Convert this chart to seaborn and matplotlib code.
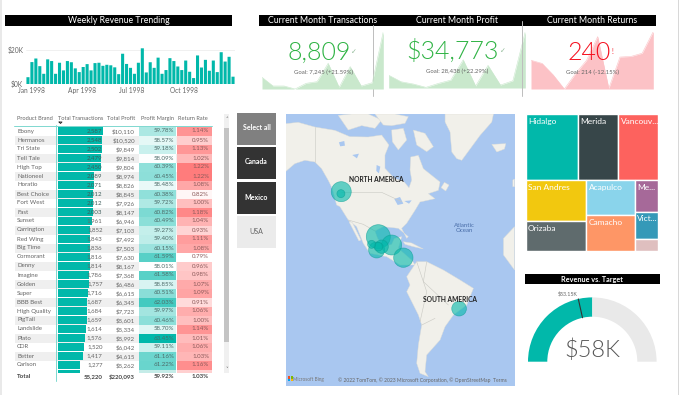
import numpy as np
import pandas as pd
import matplotlib.pyplot as plt
import seaborn as sns
from matplotlib.colors import LinearSegmentedColormap
from matplotlib.patches import Polygon, Rectangle

W, H = 680, 395
TEAL = '#01B8AA'
GREY = '#666666'

weekly_revenue = [4, 12.9, 15, 10.5, 6, 14.5, 13.5, 6, 12.5, 8, 13.5, 12.8, 9.2, 7, 10, 11.7, 8, 12.3,
                  12.5, 10.7, 11.3, 11, 9.8, 5.8, 17.8, 11.8, 9.5, 6, 12.5, 21, 6.8, 12.8, 9.5, 15.5,
                  6, 8.2, 15.2, 13.5, 10.3, 8.2, 13.8, 7.2, 3.5, 16.8, 9.7, 14.2, 7.8, 13.8, 7, 18.7,
                  13.2, 16, 4.3]
week_ticks = [0.8, 13.6, 26.4, 39.6]
week_labels = ['Jan 1998', 'Apr 1998', 'Jul 1998', 'Oct 1998']

transactions_trend = [6253, 5768, 5768, 5600, 5917, 6010, 7036, 5693, 6850, 5768, 5954, 8809]
profit_trend = [24894, 23410, 22890, 22150, 23040, 23780, 28380, 22450, 27120, 22670, 23630, 34773]
returns_trend = [195, 190, 172, 150, 174, 195, 232, 151, 200, 201, 206, 240]

brands = ['Ebony', 'Hermanos', 'Tri State', 'Tell Tale', 'High Top', 'Nationeel', 'Horatio', 'Best Choice',
          'Fort West', 'Fast', 'Sunset', 'Carrington', 'Red Wing', 'Big Time', 'Cormorant', 'Denny', 'Imagine',
          'Golden', 'Super', 'BBB Best', 'High Quality', 'PigTail', 'Landslide', 'Plato', 'CDR', 'Better', 'Carlson']
total_tx = [2587, 2548, 2502, 2479, 2450, 2089, 2071, 2012, 2012, 2003, 1961, 1852, 1843, 1836, 1816, 1814,
            1786, 1757, 1716, 1687, 1684, 1659, 1614, 1576, 1520, 1417, 1277]
total_profit = [10110, 10520, 9849, 9814, 9804, 8974, 8826, 8845, 7926, 8147, 6946, 7103, 7492, 7503, 7630,
                8167, 7368, 6486, 6615, 6345, 7723, 5601, 5334, 5992, 6042, 4615, 5262]
profit_margin = [59.78, 58.57, 59.18, 58.09, 60.39, 60.45, 58.48, 60.38, 59.72, 60.82, 60.49, 59.27, 59.40,
                 60.15, 61.59, 58.01, 61.58, 58.85, 60.51, 62.03, 59.97, 60.46, 58.70, 63.45, 59.11, 61.16, 61.22]
return_rate = [1.14, 0.95, 1.13, 1.02, 1.22, 1.22, 1.08, 0.82, 1.00, 1.18, 1.04, 0.93, 1.11, 1.08, 0.79, 0.96,
               0.98, 1.07, 1.09, 0.91, 1.06, 1.00, 1.14, 1.01, 1.06, 1.03, 1.16]
headers = ['Product Brand', 'Total Transactions', 'Total Profit', 'Profit Margin', 'Return Rate']
totals = ['Total', '55,220', '$220,093', '59.92%', '1.03%']

slicers = ['Select all', 'Canada', 'Mexico', 'USA']

city_x = [319, 318, 430, 470, 425, 440, 430, 410, 505, 672]
city_y = [260, 266, 395, 420, 435, 425, 425, 418, 458, 611]
city_r = [30, 12, 36, 30, 24, 20, 13, 12, 29, 22]

tree_top = [('Hidalgo', 29.9, TEAL), ('Merida', 22.8, '#374649'), ('Vancouv...', 22.6, '#FD625E')]
tree_bottom = [[('San Andres', 21.7, '#F2C80F'), ('Orizaba', 15.5, '#5F6B6D')],
               [('Acapulco', 14.8, '#8AD4EB'), ('Camacho', 14.7, '#FE9666')],
               [('Me...', 6.4, '#A66999'), ('Vict...', 5.6, '#3599B8'), ('', 2.3, '#DFBFBF')]]

gauge_value = 58
gauge_max = 116
gauge_target_at = 49.9

sns.set_theme(style='white')
plt.rcParams['font.family'] = ['Lato', 'DejaVu Sans']

fig = plt.figure(figsize=(W / 100, H / 100), dpi=100)


def px_axes(x0, y0, x1, y1, z=1):
    ax = fig.add_axes([x0 / W, 1 - y1 / H, (x1 - x0) / W, (y1 - y0) / H], zorder=z)
    ax.patch.set_alpha(0)
    return ax


def full_layer(z):
    ax = px_axes(0, 0, W, H, z)
    ax.set_xlim(0, W)
    ax.set_ylim(H, 0)
    ax.axis('off')
    return ax


bg = full_layer(0)
top = full_layer(6)


def box(x0, y0, x1, y1, color, ax=bg, **kw):
    ax.add_patch(Rectangle((x0, y0), x1 - x0, y1 - y0, facecolor=color, edgecolor='none', **kw))


# page edges
box(0, 0, 1.5, H, '#e9e9e9')
box(677.5, 0, 679, H, '#d8d8d8')

# title bars
box(5, 15, 232, 25.5, 'black')
box(259, 15, 656, 25.5, 'black')
box(525, 274, 659.5, 284, 'black')
bg.text(118.5, 20.3, 'Weekly Revenue Trending', color='white', fontsize=6.3, ha='center', va='center')
bg.text(323, 20.3, 'Current Month Transactions', color='white', fontsize=6.3, ha='center', va='center')
bg.text(457, 20.3, 'Current Month Profit', color='white', fontsize=6.3, ha='center', va='center')
bg.text(592, 20.3, 'Current Month Returns', color='white', fontsize=6.3, ha='center', va='center')
bg.text(592, 279.2, 'Revenue vs. Target', color='white', fontsize=5.2, ha='center', va='center', fontweight='bold')

# weekly bars
ax = px_axes(26, 46.6, 235, 84)
sns.barplot(x=list(range(len(weekly_revenue))), y=weekly_revenue, color=TEAL, saturation=1, width=0.78, linewidth=0, ax=ax)
for p in ax.patches:
    p.set_snap(False)
ax.set_ylim(0, 22)
ax.set_xlim(-0.5, len(weekly_revenue) - 0.5)
ax.set_yticks([0, 20], ['$0K', '$20K'])
ax.set_xticks(week_ticks, week_labels)
ax.tick_params(length=0, labelsize=4.8, colors=GREY, pad=2)
ax.yaxis.grid(True, color='#eeeeee', lw=0.6)
ax.set_axisbelow(True)
sns.despine(ax=ax, left=True, bottom=True)

# KPI sparklines
kpis = [(transactions_trend, 262, 383.3, 89, 5600, '#c9e8cc'),
        (profit_trend, 388.7, 525.3, 88, 22000, '#c9e8cc'),
        (returns_trend, 531, 653.3, 89, 150, '#fcc2c6')]
for vals, x0, x1, base, low, col in kpis:
    ax = px_axes(x0, 31.5, x1, base)
    m = list(range(len(vals)))
    sns.lineplot(x=m, y=vals, color=col, lw=0.4, ax=ax)
    ax.fill_between(m, vals, low, color=col, lw=0)
    ax.set_xlim(0, len(vals) - 1)
    ax.set_ylim(low, max(vals))
    ax.axis('off')

bg.plot([373, 373], [25, 96], color='#bdbdbd', lw=0.7)
top.plot([521.5, 521.5], [21, 96], color='#bdbdbd', lw=0.7)

top.text(319, 52.7, '8,809', color='#2fb344', fontsize=18, ha='center', va='center', fontweight=300)
top.text(453, 51.5, '$34,773', color='#2fb344', fontsize=18, ha='center', va='center', fontweight=300)
top.text(589, 53, '240', color='#f5101f', fontsize=18, ha='center', va='center', fontweight=300)
top.text(354, 52, '\u2713', color='#8fb996', fontsize=5, ha='center', va='center', family='DejaVu Sans')
top.text(503, 51, '\u2713', color='#8fb996', fontsize=5, ha='center', va='center', family='DejaVu Sans')
top.text(612.5, 51, '!', color='#f5101f', fontsize=5, ha='center', va='center')
top.text(323, 72.5, 'Goal: 7,245 (+21.59%)', color=GREY, fontsize=4.3, ha='center', va='center')
top.text(457, 71.5, 'Goal: 28,438 (+22.29%)', color=GREY, fontsize=4.3, ha='center', va='center')
top.text(592, 72.5, 'Goal: 214 (-12.15%)', color=GREY, fontsize=4.3, ha='center', va='center')

# table
row_h = 9
row_top = 126.5
n = len(brands)
for i in range(n):
    if i % 2 == 1:
        box(15, row_top + i * row_h, 212, row_top + (i + 1) * row_h, '#efefef')
bg.plot([14, 212], [126, 126], color='#7fd8d0', lw=0.7)
bg.plot([55.5, 55.5], [125, 381], color='#7fd8d0', lw=0.7)
table_bottom = row_top + n * row_h

ax = px_axes(58, row_top, 103, table_bottom, 2)
sns.barplot(x=total_tx, y=brands, color=TEAL, saturation=1, width=0.86, linewidth=0, ax=ax, orient='h')
ax.set_xlim(0, max(total_tx))
ax.axis('off')

teal_map = LinearSegmentedColormap.from_list('teal', ['#ffffff', TEAL])
red_map = LinearSegmentedColormap.from_list('red', ['#ffffff', '#ff7c7c'])
ax = px_axes(139, row_top, 176, table_bottom, 2)
sns.heatmap(pd.DataFrame({'m': profit_margin}), cmap=teal_map, cbar=False, xticklabels=False, yticklabels=False, ax=ax)
ax = px_axes(177, row_top, 212, table_bottom, 2)
sns.heatmap(pd.DataFrame({'r': return_rate}), cmap=red_map, cbar=False, xticklabels=False, yticklabels=False, ax=ax)

# row cut off by the scroll
box(58, 370, 80, 372.5, TEAL)
box(139, 370, 176, 372.5, '#c5ece8')
box(177, 370, 212, 372.5, '#ffd0d0')

for x, ha, head in zip([17, 58, 135, 174, 208], ['left', 'left', 'right', 'right', 'right'], headers):
    top.text(x, 118.5, head, color=GREY, fontsize=4.1, ha=ha, va='center')
top.plot([59, 62, 60.5, 59], [122, 122, 123.5, 122], color='#222222', lw=0.6)
for i in range(n):
    y = row_top + (i + 0.5) * row_h
    top.text(17, y, brands[i], color=GREY, fontsize=4.4, ha='left', va='center')
    top.text(102.5, y, f'{total_tx[i]:,}', color='#3d5c5a' if total_tx[i] > 2000 else GREY, fontsize=4.4, ha='right', va='center')
    top.text(135, y, f'${total_profit[i]:,}', color=GREY, fontsize=4.4, ha='right', va='center')
    top.text(174, y, f'{profit_margin[i]:.2f}%', color='#4d6a68', fontsize=4.4, ha='right', va='center')
    top.text(209, y, f'{return_rate[i]:.2f}%', color='#8a5a5a', fontsize=4.4, ha='right', va='center')
for x, ha, t in zip([17, 103, 135, 174, 209], ['left', 'right', 'right', 'right', 'right'], totals):
    top.text(x, 377, t, color='#444444', fontsize=4.4, ha=ha, va='center', fontweight='bold')

# scroll bar
box(224, 114, 229, 373, '#f0f0f0')
box(224, 128, 229, 342, '#c4c4c4')
top.text(226.5, 120, '\u02c4', color=GREY, fontsize=4, ha='center', va='center', family='DejaVu Sans')
top.text(226.5, 369, '\u02c5', color=GREY, fontsize=4, ha='center', va='center', family='DejaVu Sans')

# slicer buttons
slicer_y = [(113, 145), (147, 179), (182, 214), (216, 248)]
slicer_col = ['#808080', '#333333', '#333333', '#ebebeb']
for s, (y0, y1), c in zip(slicers, slicer_y, slicer_col):
    box(237, y0, 276, y1, c)
    bg.text(256.5, (y0 + y1) / 2 - 1, s, color=GREY if s == 'USA' else 'white', fontsize=5,
            ha='center', va='center', fontweight='normal' if s == 'USA' else 'bold')

# map, axes in traced picture units
OCEAN = '#a9c7f0'
mp = px_axes(285.5, 114, 514.5, 386, 2)
mp.set_xlim(152, 838)
mp.set_ylim(843, 27)
mp.patch.set_alpha(1)
mp.patch.set_facecolor(OCEAN)
mp.set_xticks([])
mp.set_yticks([])
for sp in mp.spines.values():
    sp.set_visible(False)

land = [
    # north and central america
    [(152, 56), (190, 52), (240, 66), (300, 76), (345, 95), (400, 96), (440, 90), (462, 120), (450, 150), (450, 190),
     (480, 222), (505, 228), (522, 248), (530, 225), (525, 195), (527, 156), (550, 151), (565, 191), (615, 231),
     (610, 256), (580, 266), (600, 281), (555, 291), (540, 316), (515, 355), (500, 370), (515, 400), (520, 395),
     (490, 370), (445, 365), (420, 378), (428, 400), (445, 425), (470, 418), (478, 400), (500, 395), (490, 430),
     (530, 465), (540, 480), (495, 480), (455, 455), (405, 445), (385, 415), (365, 365), (340, 345), (315, 305),
     (305, 300), (292, 250), (280, 226), (260, 191), (240, 171), (210, 166), (180, 176), (152, 200)],
    [(342, 350), (352, 352), (378, 405), (372, 408)],
    # arctic islands
    [(310, 31), (350, 27), (400, 27), (440, 45), (420, 70), (380, 62), (340, 75)],
    [(420, 27), (480, 27), (520, 35), (510, 55), (470, 62), (445, 60)],
    [(470, 75), (505, 70), (515, 105), (490, 135), (472, 110)],
    [(535, 75), (570, 85), (595, 125), (575, 140), (545, 120)],
    [(628, 232), (642, 240), (632, 258), (618, 248)],
    # greenland, iceland
    [(630, 27), (775, 27), (770, 51), (735, 91), (680, 166), (665, 161), (650, 141), (645, 81), (630, 51)],
    [(770, 118), (812, 116), (808, 132), (785, 141)],
    # cuba
    [(505, 410), (530, 414), (565, 432), (535, 425), (510, 418)],
    # south america
    [(515, 515), (545, 470), (575, 470), (625, 495), (675, 525), (715, 550), (695, 600), (655, 630), (630, 665),
     (615, 705), (575, 750), (570, 800), (580, 815), (555, 805), (545, 775), (550, 720), (560, 660), (550, 630),
     (515, 560), (525, 540)],
    # africa, europe edge
    [(838, 365), (805, 400), (805, 450), (838, 495)],
    [(833, 225), (838, 222), (838, 245), (833, 245)],
]
for poly in land:
    mp.add_patch(Polygon(poly, closed=True, facecolor='#f1f0ea', edgecolor='#dcdcd6', lw=0.3))
lakes = [[(312, 112), (328, 108), (330, 122), (316, 124)], [(352, 150), (372, 146), (366, 160)],
         [(425, 180), (436, 185), (432, 205), (424, 198)], [(478, 282), (495, 276), (505, 296), (488, 300)],
         [(508, 288), (530, 286), (522, 296)]]
for poly in lakes:
    mp.add_patch(Polygon(poly, closed=True, facecolor=OCEAN, edgecolor='none'))
for line in [[(240, 66), (240, 171)], [(320, 262), (440, 262), (500, 290)], [(340, 345), (385, 358), (420, 378)],
             [(545, 470), (575, 560), (555, 650)], [(575, 470), (565, 530), (640, 600)], [(560, 660), (600, 640)]]:
    xs, ys = zip(*line)
    mp.plot(xs, ys, color='#c9c9c3', lw=0.4)

# bubble area in points^2 from traced radius
sizes = [(2 * r / 3 * 0.72) ** 2 for r in city_r]
sns.scatterplot(x=city_x, y=city_y, s=sizes, color=TEAL, alpha=0.6, edgecolor='#0a9d92', linewidth=0.5, ax=mp, legend=False, zorder=4)
mp.set_xlim(152, 838)
mp.set_ylim(843, 27)
mp.text(425, 222, 'NORTH AMERICA', color='#222222', fontsize=4.8, ha='center', va='center', fontweight='bold', zorder=5)
mp.text(646, 584, 'SOUTH AMERICA', color='#222222', fontsize=4.8, ha='center', va='center', fontweight='bold', zorder=5)
mp.text(687, 369, 'Atlantic\nOcean', color='#4a6ea9', fontsize=4.4, ha='center', va='center', linespacing=1.1, zorder=5)
mp.text(220, 822, 'Microsoft Bing', color='#777777', fontsize=3.4, ha='center', va='center', zorder=5)
mp.text(562, 826, '\u00a9 2022 TomTom, \u00a9 2023 Microsoft Corporation, \u00a9 OpenStreetMap  Terms', color='#666666', fontsize=3.6,
        ha='center', va='center', zorder=5)
for (x0, y0), c in zip([(160, 814), (167, 814), (160, 822), (167, 822)], ['#f25022', '#7fba00', '#00a4ef', '#ffb900']):
    mp.add_patch(Rectangle((x0, y0), 6, 7, facecolor=c, edgecolor='none', zorder=5))

# treemap, nested slices scaled from the values
tx0, ty0, tx1, ty1 = 525.7, 114, 658, 250.7
ax = px_axes(tx0, ty0, tx1, ty1, 2)
ax.set_xlim(0, 1)
ax.set_ylim(1, 0)
ax.axis('off')
sum_top = sum(v for _, v, _ in tree_top)
sum_bottom = sum(v for col in tree_bottom for _, v, _ in col)
split = sum_top / (sum_top + sum_bottom)


def tree_cell(name, x, y, w, h, col):
    ax.add_patch(Rectangle((x, y), w, h, facecolor=col, edgecolor='white', lw=1))
    ax.text(x + 0.018, y + 0.028, name, color='white', fontsize=6, ha='left', va='top')


x = 0
for name, v, col in tree_top:
    tree_cell(name, x, 0, v / sum_top, split, col)
    x += v / sum_top
x = 0
for column in tree_bottom:
    cv = sum(v for _, v, _ in column)
    w = cv / sum_bottom
    y = split
    for name, v, col in column:
        h = (1 - split) * v / cv
        tree_cell(name, x, y, w, h, col)
        y += h
    x += w

# gauge, half a pie
ax = px_axes(592.3 - 64.3, 361.7 - 64.3, 592.3 + 64.3, 361.7 + 64.3, 2)
ax.pie([gauge_value, gauge_max - gauge_value, gauge_max], colors=[TEAL, '#e9e9e9', 'none'], startangle=180,
       counterclock=False, radius=1, wedgeprops=dict(width=0.3, linewidth=0))
ax.set_xlim(-1, 1)
ax.set_ylim(-1, 1)
ang = np.pi * (1 - gauge_target_at / gauge_max)
ax.plot([0.7 * np.cos(ang), 1.0 * np.cos(ang)], [0.7 * np.sin(ang), 1.0 * np.sin(ang)], color='#333333', lw=0.8)
top.text(568, 293.5, '$53.15K', color=GREY, fontsize=3.8, ha='center', va='center')
top.text(592.3, 350, '$58K', color='#555555', fontsize=17, ha='center', va='center', fontweight=300)

fig.savefig('out.png', dpi=100)
